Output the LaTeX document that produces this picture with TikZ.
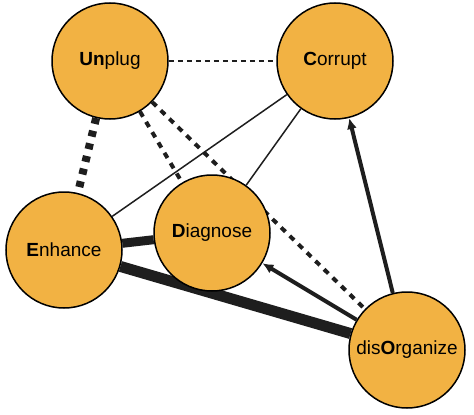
\documentclass[tikz,border=0pt]{standalone}
\usepackage{fontspec}
\setmainfont{Liberation Sans}
\usetikzlibrary{arrows.meta, backgrounds}
\definecolor{corange}{HTML}{F2B243}
\definecolor{cdark}{HTML}{1E1E1E}
\tikzset{
  every picture/.style={font=\fontsize{19}{22}\selectfont},
  phase/.style={circle, draw=black, fill=corange, line width=1.5pt, minimum size=116pt, inner sep=0pt},
  link/.style={draw=cdark, line width=#1},
  link/.default=1.5pt,
  weak/.style={link=#1, dash pattern=on 6pt off 6pt},
  weak/.default=4pt,
  arrow/.style={link=4pt, -{Latex[length=11pt, width=10pt]}},
}

\begin{document}
\begin{tikzpicture}[x=1pt, y=-1pt]
  \useasboundingbox (0,0) rectangle (474,415);
  \node[phase] (unplug) at (110,61) {\textbf{Un}plug};
  \node[phase] (corrupt) at (335,61) {\textbf{C}orrupt};
  \node[phase] (enhance) at (64,250) {\textbf{E}nhance};
  \node[phase] (diagnose) at (212,233) {\textbf{D}iagnose};
  \node[phase] (disorg) at (407,350) {dis\textbf{O}rganize};
  % edges go under the circles
  \begin{scope}[on background layer]
    \draw[link, dash pattern=on 5pt off 4pt] (unplug) -- (corrupt);
    \draw[weak=8pt, dash pattern=on 6pt off 7pt] (unplug) -- (enhance);
    \draw[weak] (unplug) -- (diagnose);
    \draw[weak] (unplug) -- (disorg);
    \draw[link] (corrupt) -- (enhance);
    \draw[link] (corrupt) -- (diagnose);
    \draw[link=9pt] (enhance) -- (diagnose);
    \draw[link=11pt] (enhance) -- (disorg);
  \end{scope}
  \draw[arrow] (disorg) -- (corrupt);
  \draw[arrow] (disorg) -- (diagnose);
\end{tikzpicture}
\end{document}
